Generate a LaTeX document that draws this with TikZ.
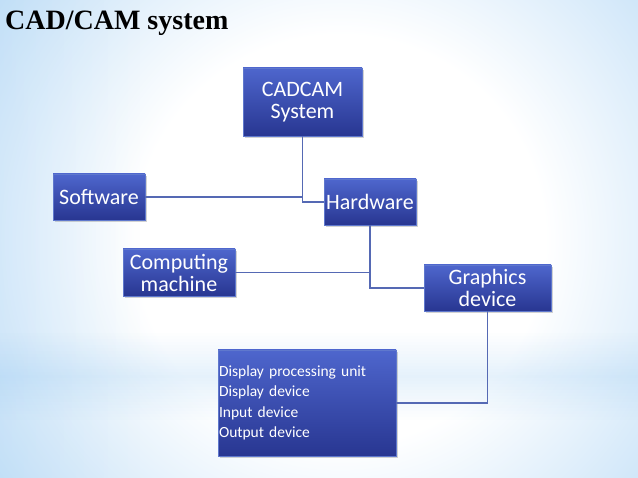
\documentclass[tikz,border=0pt]{standalone}
\usepackage{fontspec}
\newfontfamily\boxfont{Carlito}
\newfontfamily\titlefont{Liberation Serif}
\usetikzlibrary{shadows}
\definecolor{bgblue}{RGB}{140,195,240}
\definecolor{boxtop}{RGB}{78,102,205}
\definecolor{boxmid}{RGB}{52,72,175}
\definecolor{boxbot}{RGB}{40,54,145}
\definecolor{boxedge}{RGB}{95,120,205}
\definecolor{linkblue}{RGB}{85,105,180}
\pgfdeclareradialshading{bgshade}{\pgfpoint{0bp}{0bp}}{color(0bp)=(white); color(8bp)=(white); color(25bp)=(bgblue); color(50bp)=(bgblue)}
\tikzset{
  blk/.style={draw=boxedge, line width=0.8pt, top color=boxtop, middle color=boxmid, bottom color=boxbot,
    drop shadow={shadow xshift=2pt, shadow yshift=-2pt, opacity=0.35, fill=gray},
    text=white, font=\boxfont\fontsize{22}{22}\selectfont, align=center, inner sep=0pt},
  lnk/.style={draw=linkblue, line width=1.3pt}
}
\begin{document}
\begin{tikzpicture}[x=1pt,y=-1pt]
\useasboundingbox (0,0) rectangle (638,478);
% background
\fill[bgblue] (0,0) rectangle (638,478);
\shade[shading=bgshade] (-300,-400) rectangle (980,880);
% left edge glow
\foreach \d in {0,4,...,140} {
  \pgfmathsetmacro{\op}{0.09*(1-\d/140)}
  \fill[bgblue, opacity=\op] (\d,0) rectangle (\d+4,478);
}
% horizontal band
\foreach \d in {-45,-42,...,45} {
  \pgfmathsetmacro{\op}{0.22*(1-abs(\d)/45)}
  \fill[bgblue, opacity=\op] (0,375+\d) rectangle (638,378+\d);
}
% title
\node[anchor=west, font=\titlefont\bfseries\fontsize{28}{30}\selectfont, text=black, inner sep=0pt] (title) at (5,23) {CAD/CAM system};
% boxes
\node[blk, minimum width=119pt, minimum height=68pt] (cad) at (302.5,102) {CADCAM\\System};
\node[blk, minimum width=92pt, minimum height=46pt] (sw) at (99,197) {Software};
\node[blk, minimum width=92pt, minimum height=46pt] (hw) at (370,202) {Hardware};
\node[blk, minimum width=112pt, minimum height=47pt] (cm) at (179,272.5) {Computing\\machine};
\node[blk, minimum width=127pt, minimum height=46pt] (gd) at (487.5,288) {Graphics\\device};
\node[blk, minimum width=178pt, minimum height=106pt, font=\boxfont\fontsize{15.5}{20.3}\selectfont, align=left, text width=176pt, inner sep=1pt] (lst) at (307,403) {Display processing unit\\Display device\\Input device\\Output device};
% connectors
\draw[lnk] (cad.south) |- (hw.west);
\draw[lnk] (sw.east) -- (sw.east -| cad.south);
\draw[lnk] (hw.south) |- (gd.west);
\draw[lnk] (cm.east) -- (cm.east -| hw.south);
\draw[lnk] (gd.south) |- (lst.east);
\end{tikzpicture}
\end{document}
